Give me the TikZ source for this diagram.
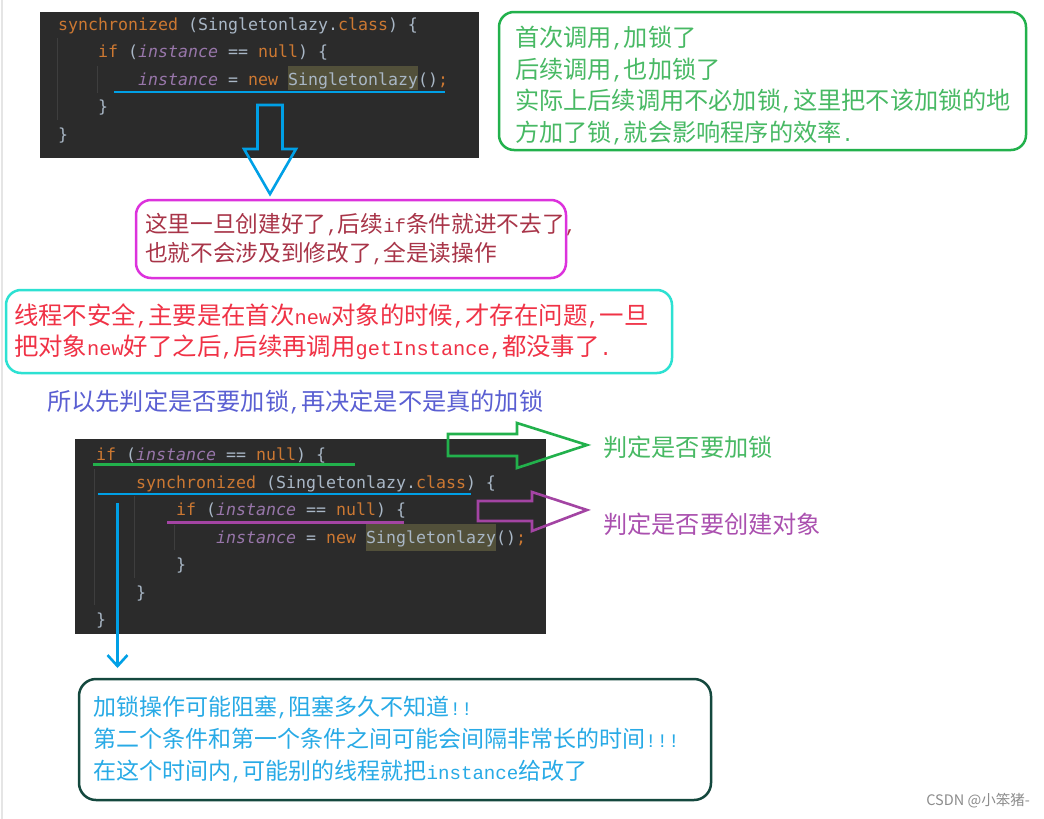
\documentclass[tikz,border=0pt]{standalone}
\usepackage{fontspec}
\usetikzlibrary{arrows.meta}
\newfontfamily\cjk{Noto Sans CJK SC}
\newfontfamily\codefont{DejaVu Sans Mono}
\newfontfamily\latmono{Liberation Mono}[Scale=0.8333]
\newcommand\la[1]{{\latmono #1}}
\definecolor{codebg}{RGB}{43,43,43}
\definecolor{codefg}{RGB}{169,183,198}
\definecolor{codekw}{RGB}{204,120,50}
\definecolor{codeid}{RGB}{152,118,170}
\definecolor{codehl}{RGB}{82,80,58}
\definecolor{guide}{RGB}{62,62,62}
\definecolor{ablue}{RGB}{0,160,230}
\definecolor{agreen}{RGB}{34,177,76}
\definecolor{apurple}{RGB}{163,68,163}
\definecolor{tgreen}{RGB}{72,185,100}
\definecolor{bgreen}{RGB}{34,177,76}
\definecolor{tmaroon}{RGB}{168,52,72}
\definecolor{bmagenta}{RGB}{220,50,220}
\definecolor{bcyan}{RGB}{45,225,210}
\definecolor{tred}{RGB}{240,50,70}
\definecolor{tblue}{RGB}{90,95,210}
\definecolor{tpurple}{RGB}{170,80,175}
\definecolor{bteal}{RGB}{20,72,62}
\definecolor{tsky}{RGB}{40,170,230}
\newcommand\ckw[1]{\textcolor{codekw}{#1}}
\newcommand\cid[1]{\textcolor{codeid}{\itshape #1}}
\newcommand\cfg[1]{\textcolor{codefg}{#1}}
\tikzset{
  codeline/.style={anchor=base west, inner sep=0pt, font=\codefont\fontsize{16.6}{20}\selectfont, text=codefg},
  note/.style={draw, rounded corners=15pt, line width=2.5pt, anchor=north west, outer sep=0pt, inner ysep=0pt, align=left},
  hollow/.style={line width=2.6pt, line join=miter},
  uline/.style={line width=2.6pt},
  guideline/.style={draw=guide, line width=1pt},
  label/.style={anchor=west, inner sep=0pt, font=\cjk\fontsize{24.2}{30}\selectfont}
}
\begin{document}
\begin{tikzpicture}[x=1pt,y=-1pt]
\useasboundingbox (0,0) rectangle (1044,819);
\fill[white] (0,0) rectangle (1044,819);
\draw[black!10, line width=2pt] (2,0) -- (2,819);

% ---------- code block 1 ----------
\fill[codebg] (40,12) rectangle (479,158);
\fill[codehl] (288,66) rectangle (418,90);
\draw[guideline] (57,38) -- (57,120);
\draw[guideline] (97,66) -- (97,93);
\node[codeline] (a1) at (58,30) {\ckw{synchronized} \cfg{(Singletonlazy.}\ckw{class}\cfg{) \{}};
\node[codeline] (a2) at (98,57.5) {\ckw{if} \cfg{(}\cid{instance} \cfg{==} \ckw{null}\cfg{) \{}};
\node[codeline] (a3) at (138,85) {\cid{instance} \cfg{=} \ckw{new} \cfg{Singletonlazy()}\ckw{;}};
\node[codeline] (a4) at (98,112.5) {\cfg{\}}};
\node[codeline] (a5) at (58,140) {\cfg{\}}};
\draw[uline, draw=ablue] (114,92) -- (445,92);
\draw[hollow, draw=ablue] (257.5,105) -- (282.5,105) -- (282.5,149) -- (296,149) -- (270,194) -- (244,149) -- (257.5,149) -- cycle;

% ---------- notes ----------
\node[note, draw=bgreen, text=tgreen, font=\cjk\fontsize{24.2}{31.5}\selectfont,
      minimum width=527pt, minimum height=138pt, inner xsep=16pt, text width=495pt] (g) at (499,12)
  {\rule{0pt}{30pt}首次调用\la{,}加锁了\\后续调用\la{,}也加锁了\\实际上后续调用不必加锁\la{,}这里把不该加锁的地\\方加了锁\la{,}就会影响程序的效率\la{.}};

\node[note, draw=bmagenta, text=tmaroon, font=\cjk\fontsize{22.7}{28.5}\selectfont,
      minimum width=430pt, minimum height=78pt, inner xsep=9pt, text width=412pt] (m) at (136,200)
  {这里一旦创建好了\la{,}后续\la{if}条件就进不去了\la{,}\\也就不会涉及到修改了\la{,}全是读操作};

\node[note, draw=bcyan, text=tred, font=\cjk\fontsize{24.4}{31}\selectfont,
      minimum width=666pt, minimum height=83pt, inner xsep=8pt, text width=650pt] (c) at (6,290)
  {线程不安全\la{,}主要是在首次\la{new}对象的时候\la{,}才存在问题\la{,}一旦\\把对象\la{new}好了之后\la{,}后续再调用\la{getInstance,}都没事了\la{.}};

\node[label, text=tblue] (t) at (47,402) {所以先判定是否要加锁\la{,}再决定是不是真的加锁};

% ---------- code block 2 ----------
\fill[codebg] (75,439) rectangle (546,634);
\fill[codehl] (366,524) rectangle (496,551);
\draw[guideline] (94.5,469) -- (94.5,605);
\draw[guideline] (134.5,496) -- (134.5,578);
\draw[guideline] (174.5,525) -- (174.5,550);
\node[codeline] (b1) at (96,460.5) {\ckw{if} \cfg{(}\cid{instance} \cfg{==} \ckw{null}\cfg{) \{}};
\node[codeline] (b2) at (136,488) {\ckw{synchronized} \cfg{(Singletonlazy.}\ckw{class}\cfg{) \{}};
\node[codeline] (b3) at (176,515.5) {\ckw{if} \cfg{(}\cid{instance} \cfg{==} \ckw{null}\cfg{) \{}};
\node[codeline] (b4) at (216,543) {\cid{instance} \cfg{=} \ckw{new} \cfg{Singletonlazy()}\ckw{;}};
\node[codeline] (b5) at (176,570.5) {\cfg{\}}};
\node[codeline] (b6) at (136,598) {\cfg{\}}};
\node[codeline] (b7) at (96,625.5) {\cfg{\}}};
\draw[uline, draw=agreen] (93,464.5) -- (355,464.5);
\draw[uline, draw=ablue] (98,494) -- (471,494);
\draw[uline, draw=apurple] (167,522.5) -- (404,522.5);

% hollow arrows
\draw[hollow, draw=agreen] (448,434) -- (517,434) -- (517,423) -- (587,445) -- (517,468) -- (517,456) -- (448,456) -- cycle;
\draw[hollow, draw=apurple] (478,501) -- (532,501) -- (532,492) -- (587,510) -- (532,531) -- (532,521) -- (478,521) -- cycle;
\node[label, text=tgreen] (l1) at (603,447) {判定是否要加锁};
\node[label, text=tpurple] (l2) at (603,524) {判定是否要创建对象};

% thin arrow to bottom note
\coordinate (vs) at (117.5,503);
\coordinate (ve) at (117.5,668);
\draw[line width=2.6pt, draw=ablue, -{Straight Barb[length=11pt,width=20pt]}] (vs) -- (ve);

\node[note, draw=bteal, text=tsky, rounded corners=17pt, font=\cjk\fontsize{23}{32}\selectfont,
      minimum width=632pt, minimum height=121pt, inner xsep=14pt, text width=604pt] (n) at (79,679)
  {加锁操作可能阻塞\la{,}阻塞多久不知道\la{!!}\\第二个条件和第一个条件之间可能会间隔非常长的时间\la{!!!}\\在这个时间内\la{,}可能别的线程就把\la{instance}给改了};

\node[anchor=east, inner sep=0pt, text=black!45, font=\cjk\fontsize{14.5}{16}\selectfont] (w) at (1030,801) {CSDN @小笨猪-};
\end{tikzpicture}
\end{document}
